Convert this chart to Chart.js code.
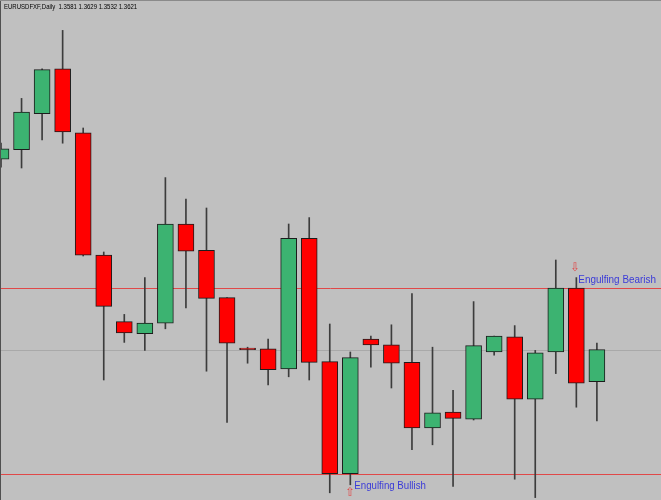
<!DOCTYPE html>
<html>
<head>
<meta charset="utf-8">
<script src="https://cdn.jsdelivr.net/npm/chart.js@4"></script>
<style>
body { margin: 0; background: #c0c0c0; }
canvas { display: block; }
</style>
</head>
<body>
<canvas id="candles" width="661" height="500"></canvas>
<script>
// EURUSD daily bars
const symbolTitle = 'EURUSDFXF,Daily  1.3581 1.3629 1.3532 1.3621';
const opens  = [1.3859, 1.3871, 1.3916, 1.3972, 1.3892, 1.3739, 1.3656, 1.3641, 1.3654, 1.3778,
                1.3745, 1.3686, 1.3623, 1.3622, 1.3597, 1.3760, 1.3606, 1.3466, 1.3634, 1.3627,
                1.3605, 1.3523, 1.3543, 1.3534, 1.3618, 1.3637, 1.3559, 1.3618, 1.3698, 1.3581];
const highs  = [1.3879, 1.3935, 1.3972, 1.4020, 1.3898, 1.3743, 1.3665, 1.3711, 1.3836, 1.3809,
                1.3798, 1.3686, 1.3624, 1.3634, 1.3778, 1.3786, 1.3653, 1.3618, 1.3638, 1.3652,
                1.3691, 1.3624, 1.3570, 1.3681, 1.3638, 1.3651, 1.3620, 1.3733, 1.3711, 1.3629];
const lows   = [1.3849, 1.3848, 1.3883, 1.3879, 1.3738, 1.3583, 1.3630, 1.3620, 1.3647, 1.3673,
                1.3594, 1.3530, 1.3604, 1.3577, 1.3587, 1.3583, 1.3442, 1.3452, 1.3599, 1.3573,
                1.3496, 1.3502, 1.3450, 1.3533, 1.3614, 1.3459, 1.3436, 1.3591, 1.3549, 1.3532];
const closes = [1.3872, 1.3918, 1.3971, 1.3893, 1.3739, 1.3675, 1.3642, 1.3654, 1.3778, 1.3744,
                1.3685, 1.3629, 1.3621, 1.3596, 1.3760, 1.3605, 1.3466, 1.3611, 1.3627, 1.3604,
                1.3523, 1.3542, 1.3535, 1.3626, 1.3638, 1.3559, 1.3617, 1.3698, 1.3579, 1.3621];

const levelLines = [1.3698, 1.3466];
const bidPrice = 1.3621;
const patterns = [
    {bar: 17, text: 'Engulfing Bullish', bullish: true},
    {bar: 28, text: 'Engulfing Bearish', bullish: false}
];

const wickData = highs.map(function (h, i) {
    return {x: i, y: [lows[i], h]};
});
const bodyData = opens.map(function (o, i) {
    return {x: i, y: [o, closes[i]]};
});
const bodyColors = opens.map(function (o, i) {
    return closes[i] >= o ? '#3cb371' : '#ff0000';
});

// narrow text like the MT4 screen font
function squeezedText(ctx, text, x, y, sx) {
    ctx.save();
    ctx.translate(x, y);
    ctx.scale(sx, 1);
    ctx.fillText(text, 0, 0);
    ctx.restore();
}

const mt4Overlay = {
    id: 'mt4Overlay',
    beforeDatasetsDraw(chart) {
        const ctx = chart.ctx;
        const y = chart.scales.y;
        const w = chart.width;
        ctx.save();
        ctx.lineWidth = 1;
        ctx.strokeStyle = '#a9a9a9';
        let py = Math.round(y.getPixelForValue(bidPrice)) + 0.5;
        ctx.beginPath(); ctx.moveTo(0, py); ctx.lineTo(w, py); ctx.stroke();
        ctx.strokeStyle = '#e04848';
        levelLines.forEach(function (lv) {
            const ly = Math.round(y.getPixelForValue(lv)) + 0.5;
            ctx.beginPath(); ctx.moveTo(0, ly); ctx.lineTo(w, ly); ctx.stroke();
        });
        ctx.restore();
    },
    afterDatasetsDraw(chart) {
        const ctx = chart.ctx;
        const xs = chart.scales.x, ys = chart.scales.y;
        ctx.save();
        ctx.textBaseline = 'middle';
        patterns.forEach(function (p) {
            const px = xs.getPixelForValue(p.bar);
            if (p.bullish) {
                const yl = ys.getPixelForValue(lows[p.bar]);
                ctx.fillStyle = '#e04848';
                ctx.font = '12px "DejaVu Sans"';
                ctx.textAlign = 'center';
                ctx.fillText('\u21E7', px, yl + 8);
                ctx.fillStyle = '#3a3ad8';
                ctx.font = '11px "Liberation Sans"';
                ctx.textAlign = 'left';
                squeezedText(ctx, p.text, px + 4, yl + 1, 0.88);
            } else {
                const yh = ys.getPixelForValue(highs[p.bar]);
                ctx.fillStyle = '#e04848';
                ctx.font = '12px "DejaVu Sans"';
                ctx.textAlign = 'center';
                ctx.fillText('\u21E9', px - 1, yh - 10);
                ctx.fillStyle = '#3a3ad8';
                ctx.font = '11px "Liberation Sans"';
                ctx.textAlign = 'left';
                squeezedText(ctx, p.text, px + 2, yh + 2, 0.9);
            }
        });
        ctx.fillStyle = '#000000';
        ctx.font = '7px "Liberation Sans"';
        ctx.textAlign = 'left';
        squeezedText(ctx, symbolTitle, 4, 7, 0.86);
        // window frame
        ctx.fillStyle = '#505050';
        ctx.fillRect(0, 0, 1, chart.height);
        ctx.fillStyle = '#8a8a8a';
        ctx.fillRect(0, 0, chart.width, 1);
        ctx.restore();
    }
};

const candleChart = new Chart(document.getElementById('candles').getContext('2d'), {
    type: 'bar',
    data: {
        datasets: [{
            label: 'body',
            data: bodyData,
            backgroundColor: bodyColors,
            borderColor: '#1c1c1c',
            borderWidth: 1,
            borderSkipped: false,
            barThickness: 16,
            grouped: false,
            order: 0
        }, {
            label: 'wick',
            data: wickData,
            backgroundColor: '#3c3c3c',
            borderWidth: 0,
            barThickness: 1,
            grouped: false,
            order: 1
        }]
    },
    options: {
        responsive: false,
        animation: false,
        devicePixelRatio: 1,
        layout: {padding: 0},
        scales: {
            x: {type: 'linear', display: false, offset: false, min: -0.0487, max: 32.12},
            y: {display: false, min: 1.3433, max: 1.4058}
        },
        plugins: {
            legend: {display: false},
            tooltip: {enabled: false}
        }
    },
    plugins: [mt4Overlay]
});
</script>
</body>
</html>
